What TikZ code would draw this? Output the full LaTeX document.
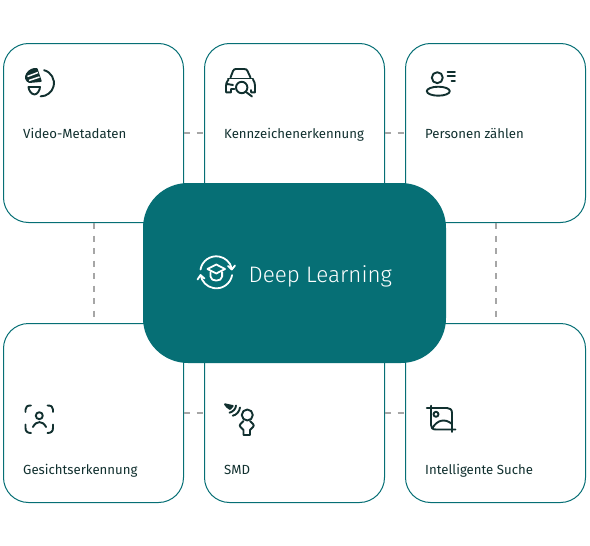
\documentclass[tikz,border=0pt]{standalone}
\usepackage{fontspec}
\setmainfont{Fira Sans}
\usepackage{xcolor}
\usetikzlibrary{calc, positioning}
\definecolor{tealdark}{HTML}{066F75}
\definecolor{inkdark}{HTML}{11302F}
\definecolor{linkgray}{HTML}{A6A6A6}
\tikzset{
    card/.style={draw=tealdark, line width=1pt, fill=white, rounded corners=25pt, minimum width=180pt, minimum height=179pt},
    hub/.style={fill=tealdark, rounded corners=45pt, minimum width=303pt, minimum height=180pt},
    link/.style={draw=linkgray, line width=2pt, dash pattern=on 6pt off 6.5pt},
    caption/.style={anchor=base west, inner sep=0pt, text=inkdark, font=\fontsize{13.2}{15}\selectfont},
    icon/.style={draw=inkdark, line width=1.9pt, line cap=round, line join=round},
    iconw/.style={draw=white, line width=1.8pt, line cap=round, line join=round}
}
\begin{document}
\begin{tikzpicture}[x=1pt, y=-1pt, >=latex]
    \useasboundingbox (0,0) rectangle (590,546);
    % 1. Cards
    \node[card] (video) at (93.5,133) {};
    \node[card] (plate) at (294.5,133) {};
    \node[card] (count) at (495.5,133) {};
    \node[card] (face) at (93.5,413) {};
    \node[card] (smd) at (294.5,413) {};
    \node[card] (search) at (495.5,413) {};
    % 2. Dashed links
    \draw[link] (video) -- (plate);
    \draw[link] (plate) -- (count);
    \draw[link] (face) -- (smd);
    \draw[link] (smd) -- (search);
    \draw[link] (video) -- (face);
    \draw[link] (count) -- (search);
    % 3. Centre block
    \node[hub] (deep) at (294.5,273) {};
    \node[anchor=base west, inner sep=0pt, text=white, font=\fontsize{22.4}{26}\selectfont\fontspec{Fira Sans Light}] (deeptext) at (248.5,282) {Deep Learning};
    % 4. Captions
    \node[caption] (videotext) at (23,138) {Video-Metadaten};
    \node[caption] (platetext) at (224,138) {Kennzeichenerkennung};
    \node[caption] (counttext) at (425,138) {Personen zählen};
    \node[caption] (facetext) at (23,474) {Gesichtserkennung};
    \node[caption] (smdtext) at (224,474) {SMD};
    \node[caption] (searchtext) at (425,474) {Intelligente Suche};
    % 5. Icon: pie
    \draw[icon] (44.1,70.2) arc (-75:90:13.3);
    \draw[icon, fill=inkdark] (36.7,69) -- (40.7,81) -- (29.5,82) .. controls (26,81) and (25,77) .. (27,74) .. controls (29,70.5) and (33,68.5) .. (36.7,69) -- cycle;
    \draw[white, line width=1.5pt] (27.5,76.5) -- (38,72.5) (29,80.5) -- (39.5,77);
    \draw[icon] (28.5,87) -- (40,87) .. controls (40,90) and (37.5,94.5) .. (34.5,94.5) .. controls (31.5,94.5) and (28.5,90) .. (28.5,87) -- cycle;
    % 6. Icon: car
    \draw[icon] (230.5,77.5) -- (233,71) .. controls (233.5,69.5) and (235,69) .. (236,69) -- (244,69) .. controls (246,69) and (247,69.5) .. (247.5,71) -- (250.5,77.5);
    \draw[icon] (228,78.5) -- (253,78.5);
    \draw[icon] (228.5,79.5) .. controls (226.5,81.5) and (226,84) .. (226,86) -- (226,92.3) -- (231,92.3) -- (231,89) -- (234.5,89);
    \draw[icon] (253,79.5) .. controls (254.5,81.5) and (255,84) .. (255,86) -- (255,92.3) -- (251,92.3) -- (251,90);
    \draw[icon] (227,84) -- (233,85);
    \draw[icon] (241.7,87.5) circle (5.7);
    \draw[icon] (245.8,91.8) -- (252,96.5);
    % 7. Icon: person with list
    \draw[icon] (437.3,77.7) circle (5.5);
    \draw[icon] (438.3,91.2) ellipse (11.5 and 4.5);
    \draw[icon] (447.5,72.3) -- (455,72.3) (447.5,76.3) -- (455,76.3) (451.5,81) -- (455,81);
    % 8. Icon: face frame
    \draw[icon] (25.5,412) -- (25.5,409.5) .. controls (25.5,406.5) and (27.5,405.5) .. (31,405.5);
    \draw[icon] (47.5,405.5) .. controls (51,405.5) and (53,406.5) .. (53,409.5) -- (53,412);
    \draw[icon] (25.5,424.5) -- (25.5,428) .. controls (25.5,431.5) and (27.5,433) .. (31,433);
    \draw[icon] (47.5,433) .. controls (51,433) and (53,431.5) .. (53,428) -- (53,424.5);
    \draw[icon] (39.3,415.7) circle (3.5);
    \draw[icon] (33,427) .. controls (36,420.5) and (43,420.5) .. (46,427);
    % 9. Icon: signal and person
    \draw[icon] (247.3,415) circle (5.5);
    \draw[icon] (243.5,421) -- (240.5,424) .. controls (239.5,425) and (239.5,426) .. (240.5,427) -- (243.5,430) -- (243.5,435) -- (250,435) -- (250,430) -- (253,427) .. controls (254,426) and (254,425) .. (253,424) -- (250,421);
    \draw[icon, fill=inkdark] (225,404.3) -- (232.7,406) -- (230,409) .. controls (228,408) and (226,406) .. (225,404.3) -- cycle;
    \draw[icon] (236,405.5) .. controls (236,408.5) and (233,412) .. (229.5,412.7);
    \draw[icon] (240,407.5) .. controls (239.5,411.5) and (236.5,415) .. (232.7,415.7);
    % 10. Icon: cropped picture
    \draw[icon] (431,405.7) -- (431,425) .. controls (431,428) and (432.5,429.5) .. (436,429.5) -- (455.5,429.5);
    \draw[icon] (426.7,408) -- (447,408) .. controls (450,408) and (452,409.5) .. (452,413) -- (452,432);
    \draw[icon] (436,414.3) circle (2.5);
    \draw[icon] (432.5,428) .. controls (437,420) and (445,418) .. (452,424);
    % 11. Icon: graduation cap in cycle
    \draw[iconw] (200.5,269.5) arc (-170:-15:16);
    \draw[iconw] (228,266) -- (231.8,269.5) -- (235,265.5);
    \draw[iconw] (232.1,275.1) arc (10:170:16);
    \draw[iconw] (197.5,279.5) -- (200.5,275.1) -- (204.5,278.5);
    \draw[iconw] (216.3,264.5) -- (225,269) -- (216.3,273.5) -- (207.5,269) -- cycle;
    \draw[iconw] (210.5,272) -- (210.5,276.5) .. controls (210.5,282) and (222.1,282) .. (222.1,276.5) -- (222.1,272);
\end{tikzpicture}
\end{document}
